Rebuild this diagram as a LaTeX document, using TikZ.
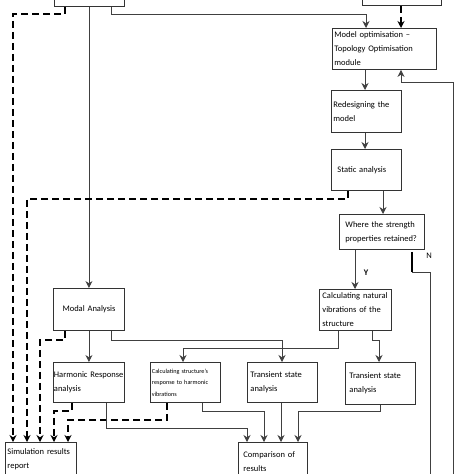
\documentclass[tikz,border=0pt]{standalone}
\usepackage{fontspec}
\setmainfont{Carlito}
\usetikzlibrary{arrows.meta,calc}
\hyphenpenalty=10000
\exhyphenpenalty=10000
\begin{document}
\begin{tikzpicture}[x=1pt,y=-1pt,
  box/.style={draw=black!80, line width=0.9pt, anchor=north west, inner ysep=0pt, align=left, font=\fontsize{8.5}{14}\selectfont},
  ebox/.style={draw=black!80, line width=0.9pt, anchor=north west, inner sep=0pt},
  conn/.style={draw=black!75, line width=0.8pt},
  dsh/.style={draw=black, line width=1.8pt, dash pattern=on 7pt off 4pt},
  arr/.style={-{Stealth[length=7pt,width=7pt]}},
  lbl/.style={font=\fontsize{8.5}{10}\selectfont, inner sep=0pt}]
\useasboundingbox (0,0) rectangle (474,474);
\clip (0,0) rectangle (474,474);

% boxes
\node[ebox, minimum width=70pt, minimum height=30pt] (TL) at (54,-24) {};
\node[ebox, minimum width=79pt, minimum height=30pt] (TR) at (362,-25) {};
\node[box, inner xsep=2pt, text width=100pt, minimum height=41pt] (Model) at (332,28) {Model optimisation~–\\Topology~Optimisation\\module};
\node[box, inner xsep=2pt, text width=66pt, minimum height=42pt] (Redesign) at (331,90) {Redesigning~the\\model};
\node[box, inner xsep=6pt, text width=58pt, minimum height=41pt] (Static) at (331,149) {Static~analysis};
\node[box, inner xsep=6pt, text width=73pt, minimum height=35pt] (Where) at (339,214) {Where~the~strength\\properties~retained?};
\node[box, inner xsep=3pt, text width=66pt, minimum height=41pt] (CalcNat) at (319,289) {Calculating~natural\\vibrations~of~the\\structure};
\node[box, inner xsep=2pt, text width=67pt, minimum height=42pt, align=center] (Modal) at (53,288) {Modal~Analysis};
\node[box, inner xsep=0.5pt, text width=70pt, minimum height=40pt] (Harmonic) at (53,362) {\mbox{Harmonic Response}\\analysis};
\node[box, inner xsep=1.5pt, text width=67pt, minimum height=40pt, font=\fontsize{6.2}{11.5}\selectfont] (CalcStruct) at (150,362) {Calculating~structure's\\response~to~harmonic\\vibrations};
\node[box, inner xsep=3pt, text width=64pt, minimum height=40pt] (Trans1) at (247,362) {Transient~state\\analysis};
\node[box, inner xsep=4pt, text width=62pt, minimum height=42pt] (Trans2) at (345,362) {Transient~state\\analysis};
\node[box, inner xsep=2pt, text width=67pt, minimum height=34pt] (Sim) at (5,442) {Simulation~results\\report};
\node[box, inner xsep=5pt, text width=59pt, minimum height=39pt] (Comp) at (238,442) {Comparison~of\\results};

\coordinate (nend) at (430,480);
\coordinate (loopend) at (453,480);

% connectors
\draw[dsh,arr] ($(TL.south west)+(11,0)$) |- (13,14) -- ($(Sim.north west)+(8,0)$);
\draw[conn,arr] (Modal.north |- TL.south) -- (Modal.north);
\draw[conn,arr] ($(TL.south west)+(57,0)$) |- (366,14) -- ($(Model.north west)+(34,0)$);
\draw[dsh,arr] ($(TR.south west)+(39,0)$) -- ($(Model.north west)+(69,0)$);
\draw[conn,arr] ($(Model.south west)+(33,0)$) -- ($(Redesign.north west)+(34,0)$);
\draw[conn,arr] ($(Redesign.south west)+(34,0)$) -- ($(Static.north west)+(34,0)$);
\draw[dsh,arr] ($(Static.south west)+(17,0)$) |- (27,199) -- ($(Sim.north west)+(22,0)$);
\draw[conn,arr] ($(Static.south west)+(52,0)$) -- ($(Where.north west)+(44,0)$);
\draw[conn,arr] ($(Where.south west)+(16,0)$) -- ($(CalcNat.north west)+(36,0)$);
\node[lbl, font=\bfseries\fontsize{8.5}{10}\selectfont] (Ylbl) at (366,273) {Y};
\draw[line width=2.6pt] ($(Where.south west)+(73,2)$) -- (412,272);
\draw[conn] (412,272) -| (nend);
\node[lbl] (Nlbl) at (429,256) {N};
\draw[conn,arr] (loopend) |- (401,82) -- ($(Model.south west)+(69,0)$);
\draw[conn,arr] (Modal.south) -- (Harmonic.north);
\draw[dsh,arr] ($(Modal.south west)+(12,0)$) |- (40,340) -- ($(Sim.north west)+(35,0)$);
\draw[conn,arr] ($(Modal.south west)+(58,0)$) |- (282,340) -- ($(Trans1.north west)+(35,0)$);
\draw[conn,arr] ($(CalcNat.south west)+(19,0)$) |- (183,348) -- ($(CalcStruct.north west)+(33,0)$);
\draw[conn,arr] ($(CalcNat.south west)+(53,0)$) |- (379,340) -- ($(Trans2.north west)+(34,0)$);
\draw[dsh,arr] ($(Harmonic.south west)+(19,0)$) |- (54,411) -- ($(Sim.north west)+(49,0)$);
\draw[dsh,arr] ($(CalcStruct.south west)+(17,0)$) |- (68,420) -- ($(Sim.north west)+(63,0)$);
\draw[conn,arr] ($(Harmonic.south west)+(53,0)$) |- (247,428) -- ($(Comp.north west)+(9,0)$);
\draw[conn,arr] ($(CalcStruct.south west)+(52,0)$) |- (264,411) -- ($(Comp.north west)+(26,0)$);
\draw[conn,arr] ($(Trans1.south west)+(34,0)$) -- ($(Comp.north west)+(43,0)$);
\draw[conn,arr] ($(Trans2.south west)+(35,0)$) |- (298,411) -- ($(Comp.north west)+(60,0)$);
\end{tikzpicture}
\end{document}
